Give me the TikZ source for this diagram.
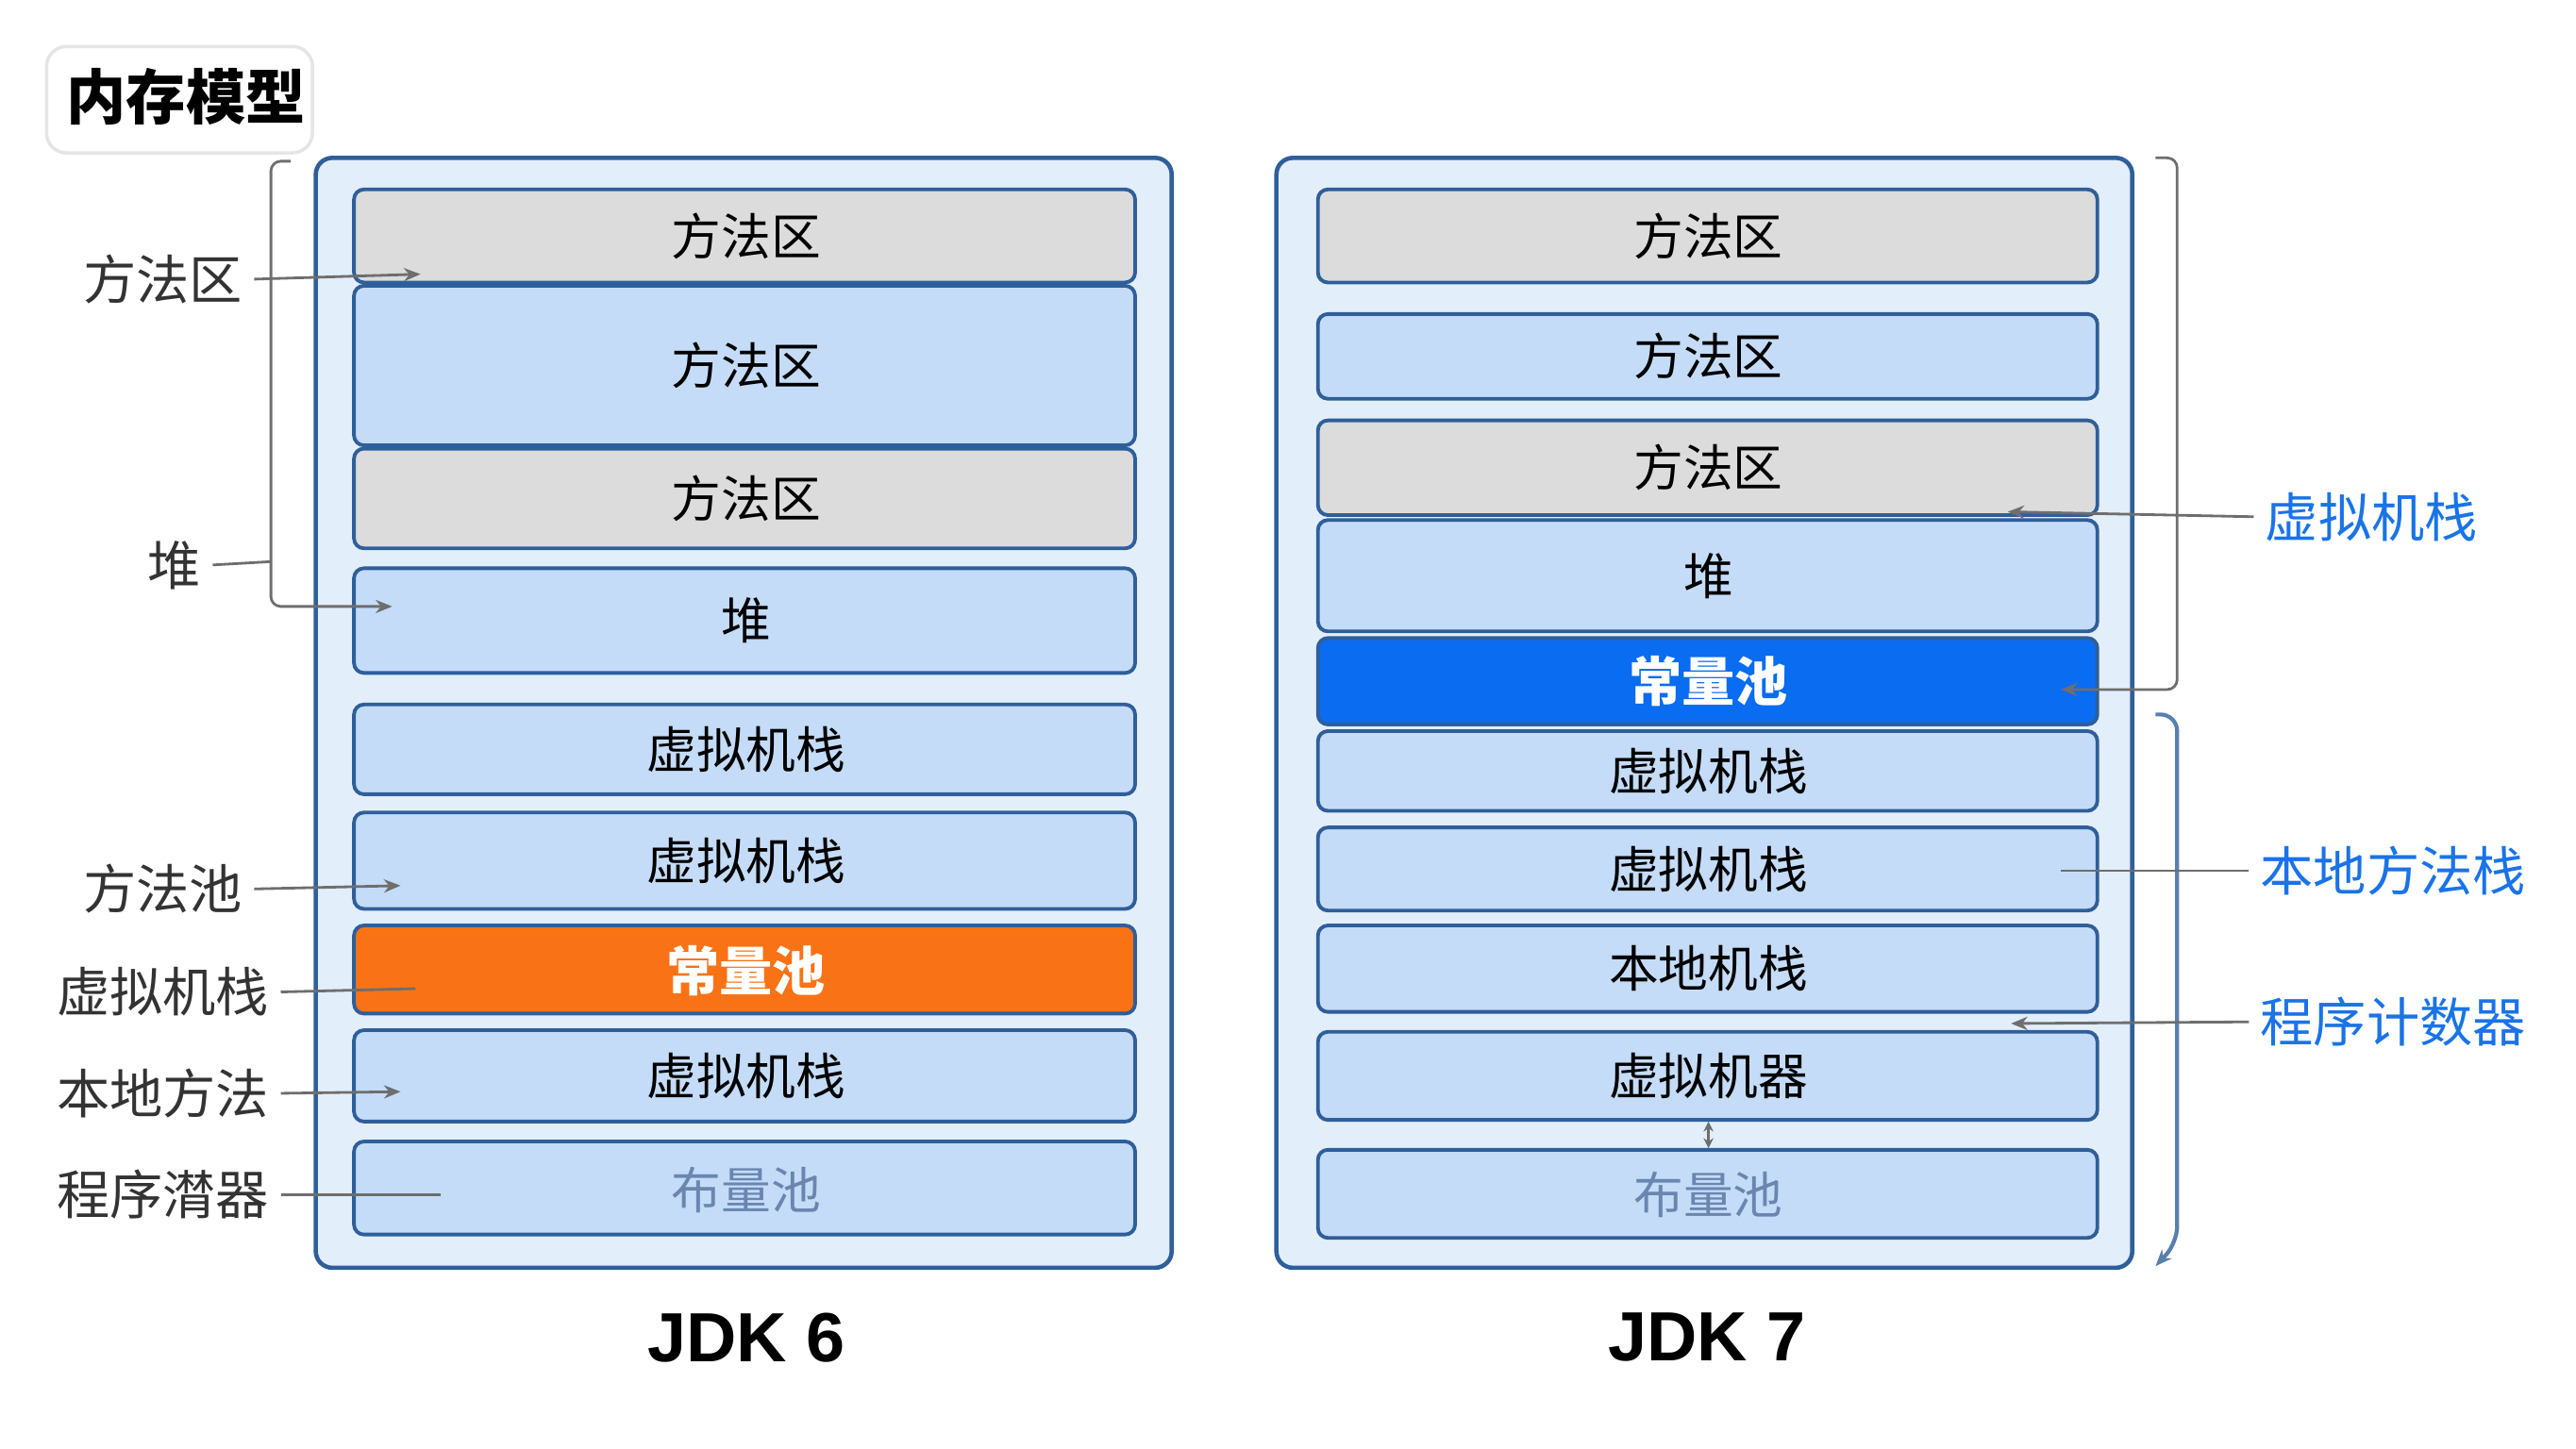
\documentclass[tikz,border=0pt]{standalone}
\usepackage{fontspec}
\setmainfont{Noto Sans CJK SC}
\setsansfont{Liberation Sans}
\usetikzlibrary{positioning,arrows.meta,calc}
\definecolor{panelblue}{HTML}{E3EEFB}
\definecolor{frameblue}{HTML}{2F5F9A}
\definecolor{cellblue}{HTML}{C4DCF7}
\definecolor{cellgray}{HTML}{DCDCDC}
\definecolor{poolorange}{HTML}{F97316}
\definecolor{poolblue}{HTML}{0A6CF0}
\definecolor{labelblue}{HTML}{1A73E8}
\definecolor{linegray}{HTML}{6E6E6E}
\definecolor{fadetext}{HTML}{6A86B0}

\begin{document}
\begin{tikzpicture}[
    x=0.1761mm, y=-0.1761mm,
    >={Stealth[length=5pt,width=4pt]},
    every node/.style={font=\fontsize{15}{18}\selectfont},
    panel/.style={draw=frameblue, fill=panelblue, rounded corners=5pt, line width=1.3pt},
    cell/.style={draw=frameblue, fill=#1, rounded corners=3pt, line width=1.1pt},
    cell/.default=cellblue,
    side/.style={font=\fontsize{16}{19}\selectfont, text=black!80},
    bside/.style={font=\fontsize{16}{19}\selectfont, text=labelblue},
    conn/.style={draw=linegray, line width=0.8pt},
]
\useasboundingbox (0,0) rectangle (1550,871.6);

% === Title ===
\draw[draw=black!10, fill=white, rounded corners=6pt, line width=1pt] (28,28) rectangle (188,92);
\node[font=\fontsize{18}{21}\selectfont\bfseries] (title) at (112,58) {内存模型};

% === JDK 6 ===
\draw[panel] (190,95) rectangle (705,763);
\foreach \ya/\yb/\fc/\txt [count=\i] in {
    114/170/cellgray/方法区, 172/268/cellblue/方法区, 270/330/cellgray/方法区,
    342/405/cellblue/堆, 424/478/cellblue/虚拟机栈, 489/547/cellblue/虚拟机栈,
    620/675/cellblue/虚拟机栈}
{
    \draw[cell=\fc] (213,\ya) rectangle (683,\yb);
    \node (a\i) at (449,{(\ya+\yb)/2}) {\txt};
}
\draw[cell=poolorange] (213,557) rectangle (683,610);
\node[text=white, font=\fontsize{16}{19}\selectfont\bfseries] (apool) at (449,584) {常量池};
\draw[cell] (213,687) rectangle (683,743);
\node[text=fadetext, font=\fontsize{15}{18}\selectfont\itshape] (afade) at (449,716) {布量池};
\node[font=\fontsize{21}{25}\selectfont\sffamily\bfseries] (jdk6) at (449,805) {JDK 6};

% left labels
\node[side] (l1) at (98,168) {方法区};
\node[side] (l2) at (105,340) {堆};
\node[side] (l3) at (98,535) {方法池};
\node[side] (l4) at (98,597) {虚拟机栈};
\node[side] (l5) at (98,658) {本地方法};
\node[side] (l6) at (98,719) {程序潸器};
\coordinate (t1) at (253,165);
\coordinate (t2) at (236,365);
\coordinate (t3) at (241,533);
\coordinate (t4) at (250,595);
\coordinate (t5) at (241,657);
\coordinate (t6) at (265,719);
\draw[conn, ->] (l1.east) -- (t1);
\draw[conn, ->, rounded corners=3pt] (175,97) -- (163,97) -- (163,365) -- (t2);
\draw[conn] (l2.east) -- (163,338);
\draw[conn, ->] (l3.east) -- (t3);
\draw[conn] (l4.east) -- (t4);
\draw[conn, ->] (l5.east) -- (t5);
\draw[conn] (l6.east) -- (t6);

% === JDK 7 ===
\draw[panel] (768,95) rectangle (1283,763);
\foreach \ya/\yb/\fc/\txt [count=\i] in {
    114/170/cellgray/方法区, 189/240/cellblue/方法区, 253/310/cellgray/方法区,
    313/380/cellblue/堆, 440/488/cellblue/虚拟机栈, 498/548/cellblue/虚拟机栈,
    557/609/cellblue/本地机栈, 621/674/cellblue/虚拟机器}
{
    \draw[cell=\fc] (793,\ya) rectangle (1262,\yb);
    \node (b\i) at (1028,{(\ya+\yb)/2}) {\txt};
}
\draw[cell=poolblue] (793,384) rectangle (1262,436);
\node[text=white, font=\fontsize{16}{19}\selectfont\bfseries] (bpool) at (1028,410) {常量池};
\draw[cell] (793,692) rectangle (1262,745);
\node[text=fadetext, font=\fontsize{15}{18}\selectfont\itshape] (bfade) at (1028,719) {布量池};
\draw[conn, <->, >={Stealth[length=3pt,width=3pt]}] (1028,675) -- (1028,691);
\node[font=\fontsize{21}{25}\selectfont\sffamily\bfseries] (jdk7) at (1027,805) {JDK 7};

% right brackets
\draw[conn, ->, rounded corners=3pt] (1297,95) -- (1310,95) -- (1310,415) -- (1240,415);
\draw[draw=frameblue!80, line width=1.2pt, ->, rounded corners=5pt]
    (1297,430) -- (1310,430) -- (1310,748) -- (1297,762);

% right labels
\node[bside] (r1) at (1427,311) {虚拟机栈};
\node[bside] (r2) at (1440,524) {本地方法栈};
\node[bside] (r3) at (1440,615) {程序计数器};
\coordinate (s1) at (1208,308);
\coordinate (s2) at (1240,524);
\coordinate (s3) at (1210,616);
\draw[conn, ->] (r1.west) -- (s1);
\draw[conn] (r2.west) -- (s2);
\draw[conn, ->] (r3.west) -- (s3);
\end{tikzpicture}
\end{document}
